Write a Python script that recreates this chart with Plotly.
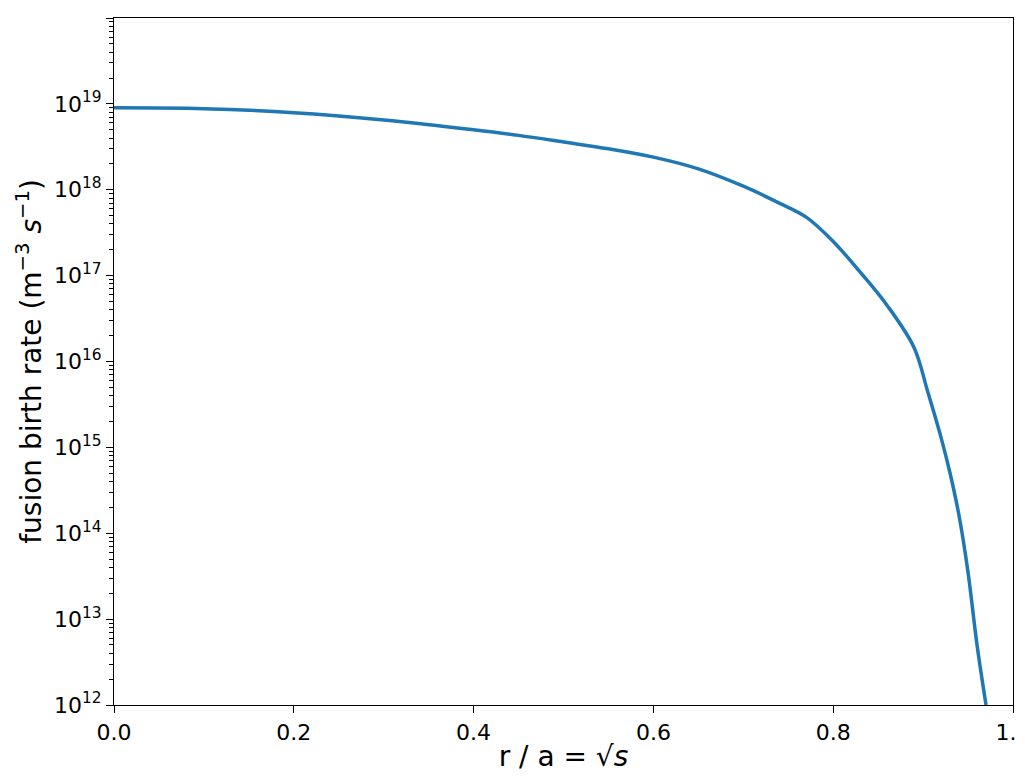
import plotly.graph_objects as go

# radial profile
r_over_a = [0.0, 0.1, 0.2, 0.3, 0.4, 0.45, 0.5, 0.55, 0.6, 0.65, 0.7, 0.74, 0.77, 0.8, 0.83, 0.86,
            0.89, 0.905, 0.92, 0.93, 0.94, 0.95, 0.96, 0.97]
birth_rate = [9.0e18, 8.8e18, 7.9e18, 6.5e18, 5.0e18, 4.3e18, 3.6e18, 3.0e18, 2.4e18, 1.75e18,
              1.1e18, 7.0e17, 4.8e17, 2.5e17, 1.1e17, 4.5e16,
              1.45e16, 4.5e15, 1.3e15, 5.0e14, 1.6e14, 3.5e13, 5.0e12, 1.0e12]
tick_vals = [10.0 ** n for n in range(12, 21)]
tick_text = ["10<sup>%d</sup>" % n for n in range(12, 21)]
minor_vals = [m * 10.0 ** n for n in range(12, 20) for m in range(2, 10)]

fig = go.Figure()
fig.add_trace(go.Scatter(x=r_over_a, y=birth_rate, mode='lines', line_shape='spline',
                         line=dict(color='#1f77b4', width=3.5), showlegend=False))

axis_style = dict(showline=True, linecolor='black', linewidth=1.2, mirror=True,
                  ticks='outside', ticklen=7, tickcolor='black', showgrid=False, zeroline=False,
                  tickfont=dict(size=22, color='black'))
fig.update_xaxes(range=[0, 1], dtick=0.2, tickformat='.1f',
                 title=dict(text='r / a = √<i>s</i>', font=dict(size=28, color='black'), standoff=2),
                 **axis_style)
fig.update_yaxes(type='log', range=[12, 20.0005], tickvals=tick_vals, ticktext=tick_text,
                 minor=dict(ticks='outside', ticklen=4, tickcolor='black', showgrid=False,
                            tickvals=minor_vals),
                 title=dict(text='fusion birth rate (m<sup>−3</sup> <i>s</i><sup>−1</sup>)',
                            font=dict(size=28, color='black'), standoff=4),
                 **axis_style)
fig.update_layout(width=1025, height=778, margin=dict(l=106, r=20, t=10, b=81, autoexpand=False),
                  plot_bgcolor='white', paper_bgcolor='white',
                  font=dict(family='DejaVu Sans'))
fig.write_html("out.html")
